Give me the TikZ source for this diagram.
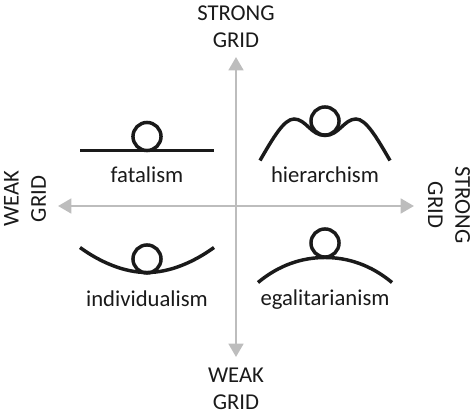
\documentclass[tikz,border=0pt]{standalone}
\usepackage{fontspec}
\setmainfont{Carlito}
\usetikzlibrary{arrows.meta,positioning}
\definecolor{axis}{HTML}{BDBDBD}
\definecolor{ink}{HTML}{1A1A1A}
\tikzset{
  axisline/.style={axis,line width=2pt,{Triangle[length=10pt,width=11pt]}-{Triangle[length=10pt,width=11pt]}},
  ground/.style={ink,line width=2.6pt},
  ball/.style={draw=ink,line width=2.6pt,circle,minimum size=0.74cm,inner sep=0pt},
  lbl/.style={font=\fontsize{17}{20.5}\selectfont,text=ink,align=center,inner sep=0pt}
}
\begin{document}
\begin{tikzpicture}[x=1pt,y=-1pt,scale=0.75]
  \useasboundingbox (0,0) rectangle (474,417);
  % axes
  \coordinate (top) at (236,57);
  \coordinate (bottom) at (236,357);
  \coordinate (left) at (58,206);
  \coordinate (right) at (414,206);
  \draw[axisline] (left) -- (right);
  \draw[axisline] (top) -- (bottom);

  % axis labels
  \node[lbl] (stronggridtop) at (236,27) {STRONG\\GRID};
  \node[lbl] (weakgridbottom) at (236,389) {WEAK\\GRID};
  \node[lbl,rotate=90] (weakgridleft) at (25,199) {WEAK\\GRID};
  \node[lbl,rotate=-90] (stronggridright) at (449,205) {STRONG\\GRID};

  % fatalism
  \draw[ground] (80,150.5) -- (214,150.5);
  \node[ball] (ballfat) at (147,136.5) {};
  \node[lbl] (fatalism) at (147,175) {fatalism};

  % hierarchism
  \draw[ground] (260,160.5) .. controls (273,138) and (284,119) .. (294,119) .. controls (306,119) and (311,135.5) .. (325,135.5) .. controls (339,135.5) and (344,119) .. (356,119) .. controls (366,119) and (377,138) .. (390,160.5);
  \node[ball] (ballhier) at (325,121) {};
  \node[lbl] (hierarchism) at (325,175) {hierarchism};

  % individualism
  \draw[ground] (80,247.5) .. controls (100,262) and (124,272.5) .. (147,272.5) .. controls (170,272.5) and (194,262) .. (214,247.5);
  \node[ball] (ballind) at (147,259) {};
  \node[lbl] (individualism) at (147,299) {individualism};

  % egalitarianism
  \draw[ground] (258,282.5) .. controls (279,265) and (302,257.5) .. (325,257.5) .. controls (348,257.5) and (371,265) .. (392,282.5);
  \node[ball] (ballega) at (325,243) {};
  \node[lbl] (egalitarianism) at (325,299.5) {egalitarianism};
\end{tikzpicture}
\end{document}
